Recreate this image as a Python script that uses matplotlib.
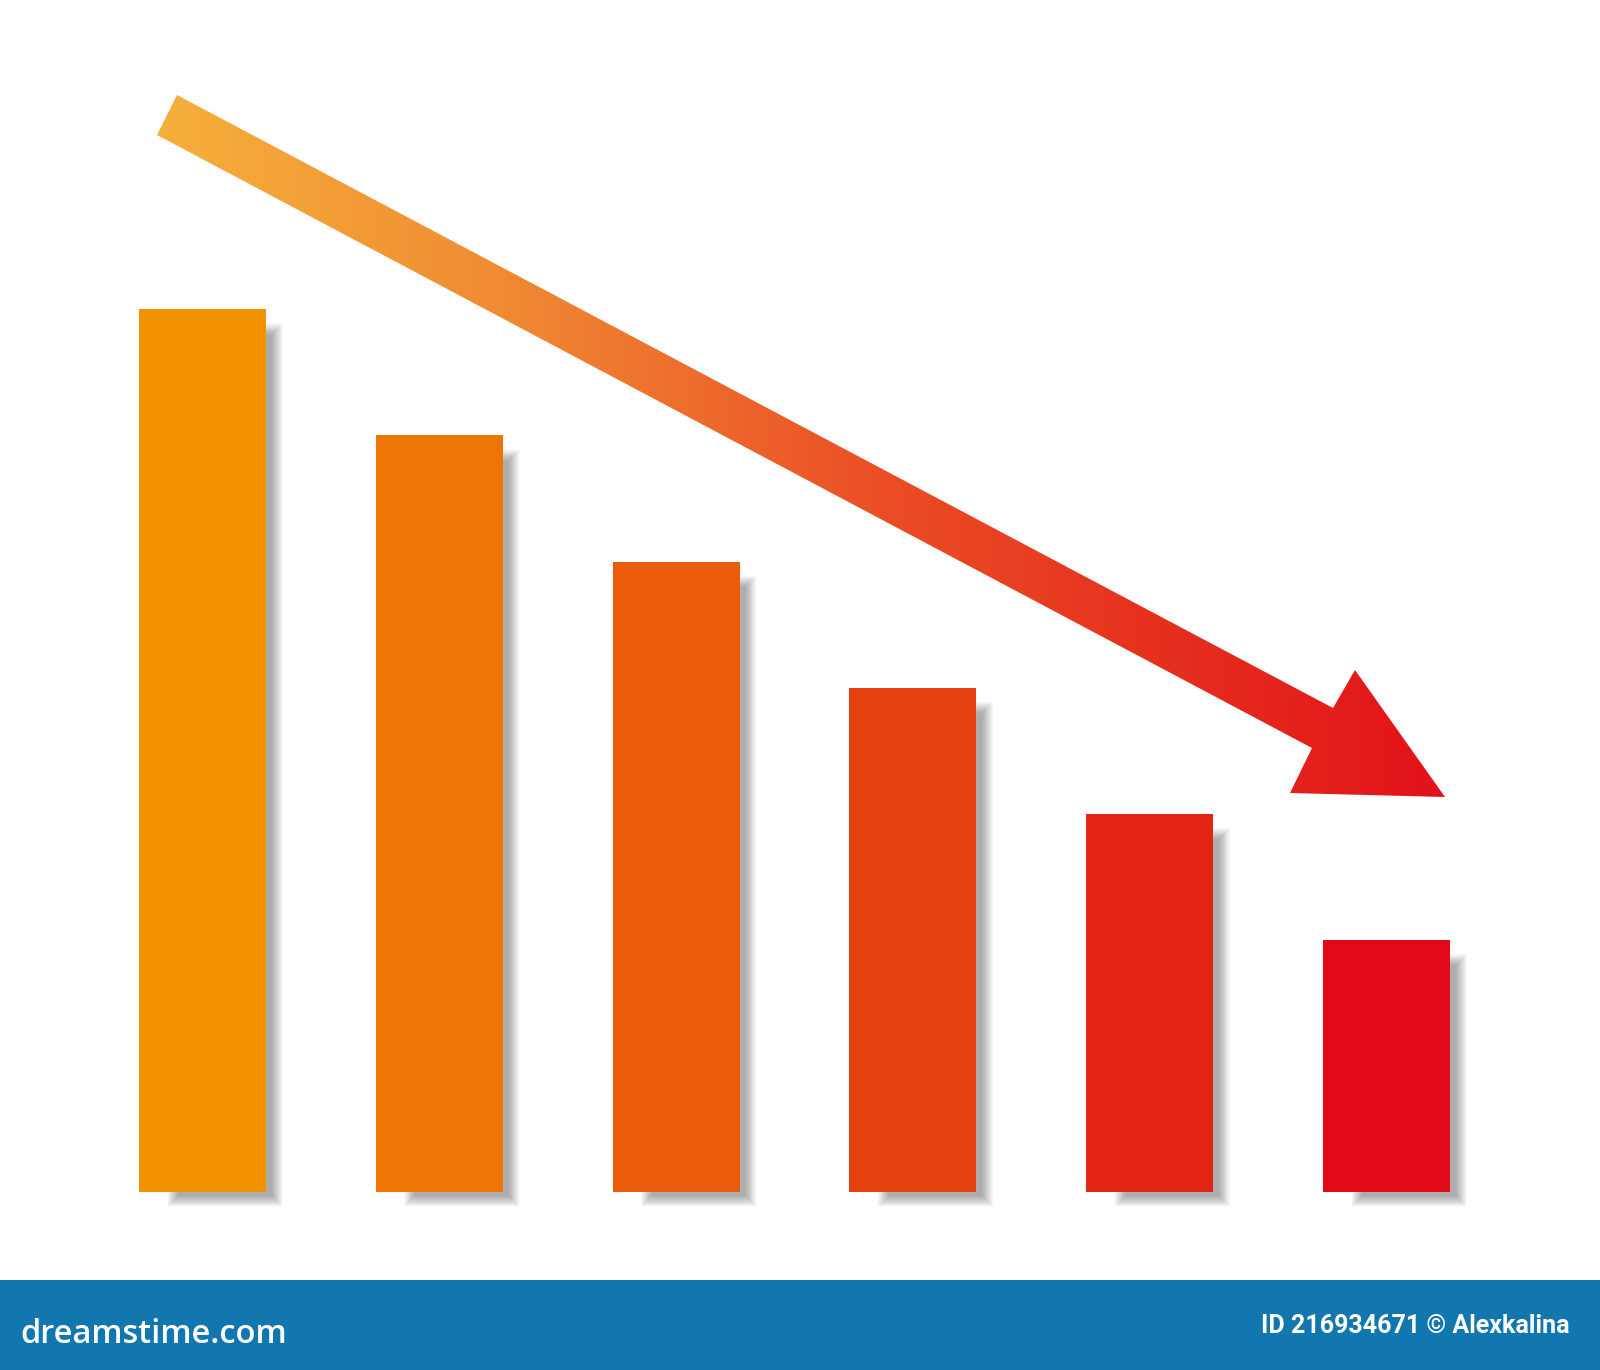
import numpy as np
import matplotlib
matplotlib.use("Agg")
import matplotlib.pyplot as plt
from matplotlib.patches import Polygon, Rectangle
from matplotlib.colors import LinearSegmentedColormap

# ---- data ----
categories = ["1", "2", "3", "4", "5", "6"]
values = [7, 6, 5, 4, 3, 2]
bar_colors = ["#F39200", "#EE7404", "#EB5C0A", "#E5400F", "#E32513", "#E20A16"]
arrow_colors = ["#F6B03C", "#F08A33", "#EB5026", "#E5301E", "#E2121A"]
arrow_stops = [0.0, 0.27, 0.55, 0.78, 1.0]
footer_left = "dreamstime.com"
footer_right = "ID 216934671 © Alexkalina"

# ---- layout (pixel geometry of the 1600x1370 canvas) ----
W, H = 1600, 1370
fig = plt.figure(figsize=(16, 13.7), dpi=100)
ax = fig.add_axes([0, 0, 1, 1])
x0px, step = 202.5, 236.8
base_px, unit = 1192.0, 126.1


def px2x(p):
    return (p - x0px) / step


def py2y(p):
    return (base_px - p) / unit


ax.set_xlim(px2x(0), px2x(W))
ax.set_ylim(py2y(H), py2y(0))
ax.axis("off")

x = np.arange(len(values))
width = 127.0 / step

# ---- soft drop shadows ----
n_layers = 22
blur = 12.0
for xi, v in zip(x, values):
    left = xi - width / 2 + 40 / step
    right = xi + width / 2 + 5 / step
    top = v - 26 / unit
    bottom = -3 / unit
    for k in range(n_layers):
        r = blur * (1 - k / n_layers)
        rx, ry = r / step, r / unit
        ax.add_patch(Rectangle((left - rx, bottom - ry),
                               (right - left) + 2 * rx, (top - bottom) + 2 * ry,
                               facecolor="#000000", edgecolor="none",
                               alpha=0.017, zorder=1))

# ---- bars ----
ax.bar(x, values, width=width, color=bar_colors, zorder=3, linewidth=0)

# ---- gradient arrow ----
pts_px = [(177, 95), (1333, 708), (1355, 670), (1445, 797),
          (1290, 793), (1312, 748), (157, 135)]
pts = [(px2x(a), py2y(b)) for a, b in pts_px]
poly = Polygon(pts, closed=True, facecolor="none", edgecolor="none", zorder=4)
ax.add_patch(poly)
cmap = LinearSegmentedColormap.from_list("arr", list(zip(arrow_stops, arrow_colors)))
grad = np.linspace(0, 1, 512).reshape(1, -1)
xs = [p[0] for p in pts]
ys = [p[1] for p in pts]
im = ax.imshow(grad, extent=[min(xs), max(xs), min(ys), max(ys)],
               cmap=cmap, aspect="auto", zorder=4, interpolation="bilinear")
im.set_clip_path(poly)

# ---- footer banner ----
ax.add_patch(Rectangle((0, 0), 1, (H - 1280) / H, transform=ax.transAxes,
                       facecolor="#1177AE", edgecolor="none", zorder=5))
fig.text(20 / W, 1 - 1343 / H, footer_left, color="white", fontsize=23.5,
         fontfamily="Open Sans", fontweight="semibold", ha="left",
         va="baseline", zorder=6)
fig.text(1570 / W, 1 - 1333 / H, footer_right, color="white", fontsize=18,
         fontfamily="Roboto", fontweight="bold", ha="right",
         va="baseline", zorder=6)

fig.savefig("out.png", dpi=100, facecolor="white")
